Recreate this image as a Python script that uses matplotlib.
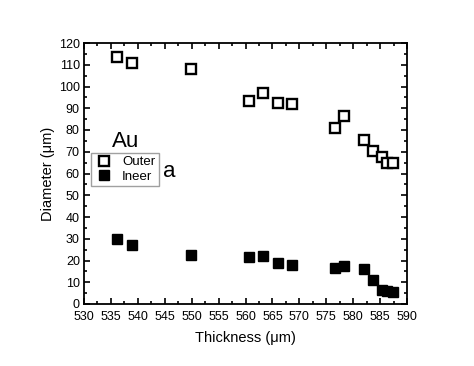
import matplotlib
matplotlib.use("Agg")
import matplotlib.pyplot as plt
from matplotlib.ticker import MultipleLocator

plt.rcParams['font.family'] = ['Liberation Sans', 'DejaVu Sans']

thickness = [536.2, 539.0, 549.8, 560.6, 563.3, 566.0, 568.7, 576.7, 578.3, 582.1, 583.7, 585.3, 586.3, 587.4]
outer = [113.5, 110.6, 108.0, 93.4, 97.1, 92.5, 92.0, 81.0, 86.5, 75.6, 70.3, 67.6, 65.0, 65.0]
inner = [29.7, 27.0, 22.7, 21.6, 22.1, 19.0, 17.8, 16.7, 17.3, 16.2, 10.9, 6.4, 5.8, 5.4]

fig = plt.figure(figsize=(4.74, 3.66), dpi=100)
ax = fig.add_axes([84/474, 1-304/366, (407-84)/474, (304-43)/366])

ax.plot(thickness, outer, linestyle='none', marker='s', markersize=7,
        markerfacecolor='white', markeredgecolor='black', markeredgewidth=1.7, label='Outer')
ax.plot(thickness, inner, linestyle='none', marker='s', markersize=7.5,
        markerfacecolor='black', markeredgecolor='black', label='Ineer')

ax.set_xlim(530, 590)
ax.set_ylim(0, 120)
ax.xaxis.set_major_locator(MultipleLocator(5))
ax.xaxis.set_minor_locator(MultipleLocator(2.5))
ax.yaxis.set_major_locator(MultipleLocator(10))
ax.yaxis.set_minor_locator(MultipleLocator(5))
ax.tick_params(which='both', direction='in', top=True, right=True, labelsize=9, width=1.2)
ax.tick_params(which='major', length=4)
ax.tick_params(which='minor', length=2.5)
ax.tick_params(axis='x', pad=5)
ax.tick_params(axis='y', pad=3)
for s in ax.spines.values():
    s.set_linewidth(1.3)

ax.set_xlabel('Thickness (\u03bcm)', fontsize=10.5, labelpad=6)
ax.set_ylabel('Diameter (\u03bcm)', fontsize=10.5, labelpad=3)

ax.text(0.088, 0.60, 'Au', transform=ax.transAxes, fontsize=16)
ax.text(0.245, 0.487, 'a', transform=ax.transAxes, fontsize=16)

leg = ax.legend(loc='upper left', bbox_to_anchor=(0.022, 0.58), fontsize=9.5,
                frameon=True, fancybox=False, edgecolor='#888888', borderpad=0.25,
                handletextpad=0.6, labelspacing=0.2, handlelength=1.5, borderaxespad=0)
leg.get_frame().set_linewidth(1.0)

fig.savefig('out.png', dpi=100)
